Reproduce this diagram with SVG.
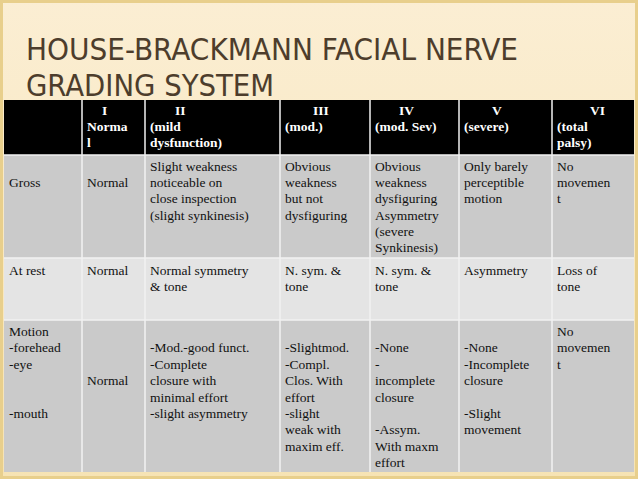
<svg xmlns="http://www.w3.org/2000/svg" width="638" height="479" viewBox="0 0 638 479">
<defs>
<linearGradient id="bg" x1="0" y1="0" x2="0" y2="1"><stop offset="0" stop-color="#fbeed3"/><stop offset="1" stop-color="#f6e3b4"/></linearGradient>
<style>
text{font-family:"Liberation Serif",serif;font-size:13.5px;fill:#111}
.h text{fill:#fff;font-weight:bold}
.t{font-family:"DejaVu Sans Condensed","Liberation Sans Narrow","Liberation Sans",sans-serif;font-size:31px;fill:#4d3d2c}
line{stroke:#f2f2f2;stroke-width:1.5}
</style>
</defs>
<rect width="638" height="479" fill="url(#bg)"/>
<rect x="0" y="0" width="638" height="479" fill="none" stroke="#e8cf8c" stroke-width="6"/>
<text class="t" x="26" y="60" textLength="492" lengthAdjust="spacingAndGlyphs">HOUSE-BRACKMANN FACIAL NERVE</text>
<text class="t" x="26" y="96" textLength="248" lengthAdjust="spacingAndGlyphs">GRADING SYSTEM</text>
<g id="table">
<rect x="4" y="100" width="630" height="55" fill="#000"/>
<rect x="4" y="155" width="630" height="103" fill="#cacaca"/>
<rect x="4" y="258" width="630" height="62" fill="#e4e4e4"/>
<rect x="4" y="320" width="630" height="152" fill="#cacaca"/>
<g id="grid">
<line x1="82" y1="100" x2="82" y2="472"/><line x1="145" y1="100" x2="145" y2="472"/><line x1="280" y1="100" x2="280" y2="472"/><line x1="370" y1="100" x2="370" y2="472"/><line x1="459" y1="100" x2="459" y2="472"/><line x1="552" y1="100" x2="552" y2="472"/>
<line x1="4" y1="155" x2="634" y2="155"/><line x1="4" y1="258" x2="634" y2="258"/><line x1="4" y1="320" x2="634" y2="320"/>
</g>
</g>
<g id="header" class="h">
<text x="102" y="115">I</text><text x="87" y="131">Norma</text><text x="87" y="147">l</text>
<text x="175" y="115">II</text><text x="150" y="131">(mild</text><text x="150" y="147">dysfunction)</text>
<text x="313" y="115">III</text><text x="285" y="131">(mod.)</text>
<text x="399" y="115">IV</text><text x="375" y="131">(mod. Sev)</text>
<text x="492" y="115">V</text><text x="464" y="131">(severe)</text>
<text x="590" y="115">VI</text><text x="557" y="131">(total</text><text x="557" y="147">palsy)</text>
</g>
<g id="gross">
<text x="9" y="187">Gross</text><text x="87" y="187">Normal</text>
<text x="150" y="171">Slight weakness</text><text x="150" y="187">noticeable on</text><text x="150" y="203">close inspection</text><text x="150" y="220">(slight synkinesis)</text>
<text x="285" y="171">Obvious</text><text x="285" y="187">weakness</text><text x="285" y="203">but not</text><text x="285" y="220">dysfiguring</text>
<text x="375" y="171">Obvious</text><text x="375" y="187">weakness</text><text x="375" y="203">dysfiguring</text><text x="375" y="220">Asymmetry</text><text x="375" y="236">(severe</text><text x="375" y="252">Synkinesis)</text>
<text x="464" y="171">Only barely</text><text x="464" y="187">perceptible</text><text x="464" y="203">motion</text>
<text x="557" y="171">No</text><text x="557" y="187">movemen</text><text x="557" y="203">t</text>
</g>
<g id="rest">
<text x="9" y="275">At rest</text><text x="87" y="275">Normal</text>
<text x="150" y="275">Normal symmetry</text><text x="150" y="291">&amp; tone</text>
<text x="285" y="275">N. sym. &amp;</text><text x="285" y="291">tone</text>
<text x="375" y="275">N. sym. &amp;</text><text x="375" y="291">tone</text>
<text x="464" y="275">Asymmetry</text>
<text x="557" y="275">Loss of</text><text x="557" y="291">tone</text>
</g>
<g id="motion">
<text x="9" y="336">Motion</text><text x="9" y="352">-forehead</text><text x="9" y="369">-eye</text><text x="9" y="418">-mouth</text>
<text x="87" y="385">Normal</text>
<text x="150" y="352">-Mod.-good funct.</text><text x="150" y="369">-Complete</text><text x="150" y="385">closure with</text><text x="150" y="402">minimal effort</text><text x="150" y="418">-slight asymmetry</text>
<text x="285" y="352">-Slightmod.</text><text x="285" y="369">-Compl.</text><text x="285" y="385">Clos. With</text><text x="285" y="402">effort</text><text x="285" y="418">-slight</text><text x="285" y="434">weak with</text><text x="285" y="451">maxim eff.</text>
<text x="375" y="352">-None</text><text x="375" y="369">-</text><text x="375" y="385">incomplete</text><text x="375" y="402">closure</text><text x="375" y="434">-Assym.</text><text x="375" y="451">With maxm</text><text x="375" y="467">effort</text>
<text x="464" y="352">-None</text><text x="464" y="369">-Incomplete</text><text x="464" y="385">closure</text><text x="464" y="418">-Slight</text><text x="464" y="434">movement</text>
<text x="557" y="336">No</text><text x="557" y="352">movemen</text><text x="557" y="369">t</text>
</g>
</svg>
